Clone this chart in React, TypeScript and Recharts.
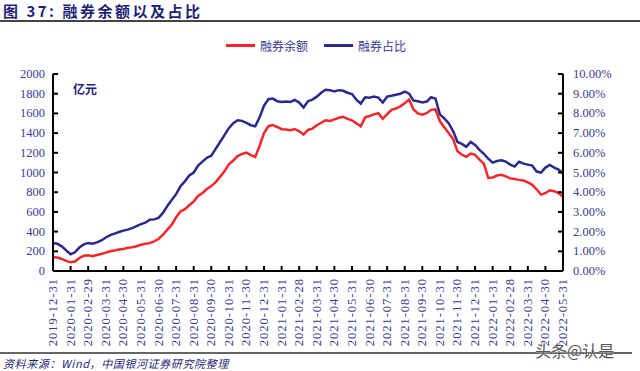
import React from "react";
import { ComposedChart, Line, XAxis, YAxis, Legend } from "recharts";

const monthLabels = ["2019-12-31","2020-01-31","2020-02-29","2020-03-31","2020-04-30","2020-05-31","2020-06-30","2020-07-31","2020-08-31","2020-09-30","2020-10-31","2020-11-30","2020-12-31","2021-01-31","2021-02-28","2021-03-31","2021-04-30","2021-05-31","2021-06-30","2021-07-31","2021-08-31","2021-09-30","2021-10-31","2021-11-30","2021-12-31","2022-01-31","2022-02-28","2022-03-31","2022-04-30","2022-05-31"];

// 融券余额 (亿元), sampled four times per month
const balance = [140,136,122,102,88,96,132,154,160,150,163,172,186,200,208,218,224,236,242,252,266,277,283,300,325,368,420,470,545,605,628,668,705,762,792,832,862,902,956,1012,1082,1122,1166,1188,1202,1176,1158,1272,1400,1470,1482,1462,1440,1436,1430,1442,1418,1385,1432,1446,1480,1505,1530,1524,1540,1556,1566,1545,1530,1500,1468,1560,1574,1590,1602,1545,1592,1636,1650,1672,1702,1740,1640,1600,1586,1602,1636,1642,1520,1460,1400,1340,1215,1180,1160,1192,1180,1130,1090,945,950,970,976,960,940,934,925,918,900,875,830,775,790,820,810,792,752];

// 融券占比 (%), sampled four times per month
const ratio = [1.42,1.38,1.25,1.05,0.85,0.95,1.2,1.35,1.42,1.38,1.45,1.55,1.7,1.82,1.9,1.98,2.05,2.1,2.18,2.28,2.38,2.45,2.6,2.62,2.7,2.95,3.3,3.6,3.9,4.3,4.55,4.85,5.0,5.35,5.55,5.75,5.85,6.2,6.55,6.9,7.25,7.5,7.65,7.62,7.52,7.4,7.35,7.8,8.4,8.72,8.75,8.62,8.58,8.6,8.58,8.68,8.55,8.3,8.62,8.7,8.85,9.05,9.2,9.18,9.12,9.18,9.15,9.05,8.98,8.7,8.5,8.82,8.8,8.85,8.8,8.55,8.85,8.9,8.95,9.0,9.1,9.0,8.65,8.62,8.55,8.6,8.82,8.75,7.95,7.75,7.5,7.1,6.55,6.45,6.3,6.55,6.4,6.15,5.95,5.7,5.5,5.58,5.62,5.55,5.4,5.3,5.55,5.45,5.4,5.35,5.05,5.0,5.25,5.38,5.25,5.15,4.95];

const leftTicks = [0,200,400,600,800,1000,1200,1400,1600,1800,2000];
const rightTicks = [0,1,2,3,4,5,6,7,8,9,10];

const samplesPerMonth = 4;
const data = balance.map((b, i) => ({ m: i / samplesPerMonth, bal: b, pct: ratio[i] }));
const xTicks = monthLabels.map((_, i) => i);

const RED = "#f2262b";
const BLUE = "#2b2a8c";
const TICK = "#3b3b8f";
const SERIF = "Liberation Serif";
const CJK = "'Noto Sans CJK SC', sans-serif";
const AXIS = { stroke: "#000", strokeWidth: 2 };

const LeftTick = (p: any) => (
  <text x={p.x} y={p.y} dy={4} textAnchor="end" fill={TICK} fontFamily={SERIF} fontSize={12.5}>{p.payload.value}</text>
);
const RightTick = (p: any) => (
  <text x={p.x} y={p.y} dy={4} textAnchor="start" fill={TICK} fontFamily={SERIF} fontSize={12.5}>{p.payload.value.toFixed(2) + "%"}</text>
);
const BottomTick = (p: any) => (
  <text x={p.x} y={p.y} dy={4} textAnchor="end" transform={`rotate(-90, ${p.x}, ${p.y})`} fill={TICK} fontFamily={SERIF} fontSize={12.5} letterSpacing={1}>{monthLabels[p.payload.value]}</text>
);

const LegendContent = () => (
  <div style={{ position: "relative", height: 20 }}>
    {[{ c: RED, t: "融券余额", x: 226 }, { c: BLUE, t: "融券占比", x: 324 }].map((it) => (
      <div key={it.t} style={{ position: "absolute", left: it.x, top: 0, display: "flex", alignItems: "center" }}>
        <div style={{ width: 29, height: 3, background: it.c }} />
        <span style={{ marginLeft: 5, fontFamily: CJK, fontSize: 12, color: "#3b3b8f" }}>{it.t}</span>
      </div>
    ))}
  </div>
);

export default function App() {
  return (
    <div style={{ position: "absolute", left: 0, top: 0, width: 640, height: 371, background: "#fff", overflow: "hidden" }}>
      <div style={{ position: "absolute", left: 3, top: 0, fontFamily: CJK, fontWeight: 700, fontSize: 15, letterSpacing: 2.5, color: "#1f1f78" }}>图 37: 融券余额以及占比</div>
      <div style={{ position: "absolute", left: 0, top: 20, width: 640, height: 2, background: "#444" }} />
      <ComposedChart width={640} height={371} data={data} margin={{ top: 74, right: 0, bottom: 10, left: 0 }}>
        <XAxis dataKey="m" type="number" domain={[0, 29]} ticks={xTicks} interval={0} height={90} tickSize={-5} tickMargin={12} tickLine={AXIS} axisLine={AXIS} tick={<BottomTick />} />
        <YAxis yAxisId="l" domain={[0, 2000]} ticks={leftTicks} interval={0} width={53} tickSize={-5} tickMargin={13} tickLine={AXIS} axisLine={AXIS} tick={<LeftTick />} />
        <YAxis yAxisId="r" orientation="right" domain={[0, 10]} ticks={rightTicks} interval={0} width={77} tickSize={-5} tickMargin={15} tickLine={AXIS} axisLine={AXIS} tick={<RightTick />} />
        <Legend verticalAlign="middle" align="center" layout="horizontal" wrapperStyle={{ top: 37, left: 0, width: 640 }} content={<LegendContent />} />
        <Line yAxisId="l" dataKey="bal" name="融券余额" stroke={RED} strokeWidth={2.5} dot={false} type="linear" isAnimationActive={false} />
        <Line yAxisId="r" dataKey="pct" name="融券占比" stroke={BLUE} strokeWidth={2.5} dot={false} type="linear" isAnimationActive={false} />
      </ComposedChart>
      <div style={{ position: "absolute", left: 73, top: 80, fontFamily: CJK, fontWeight: 700, fontSize: 12, color: "#1f1f78" }}>亿元</div>
      <div style={{ position: "absolute", left: 0, top: 352, width: 632, height: 2, background: "#666" }} />
      <div style={{ position: "absolute", left: 3, top: 355, fontFamily: CJK, fontStyle: "italic", fontSize: 11, letterSpacing: 0.6, color: "#1f1f78" }}>资料来源：Wind，中国银河证券研究院整理</div>
      <div style={{ position: "absolute", left: 535, top: 338, fontFamily: CJK, fontSize: 16, color: "#555", textShadow: "0 0 2px #fff" }}>头条@认是</div>
    </div>
  );
}
